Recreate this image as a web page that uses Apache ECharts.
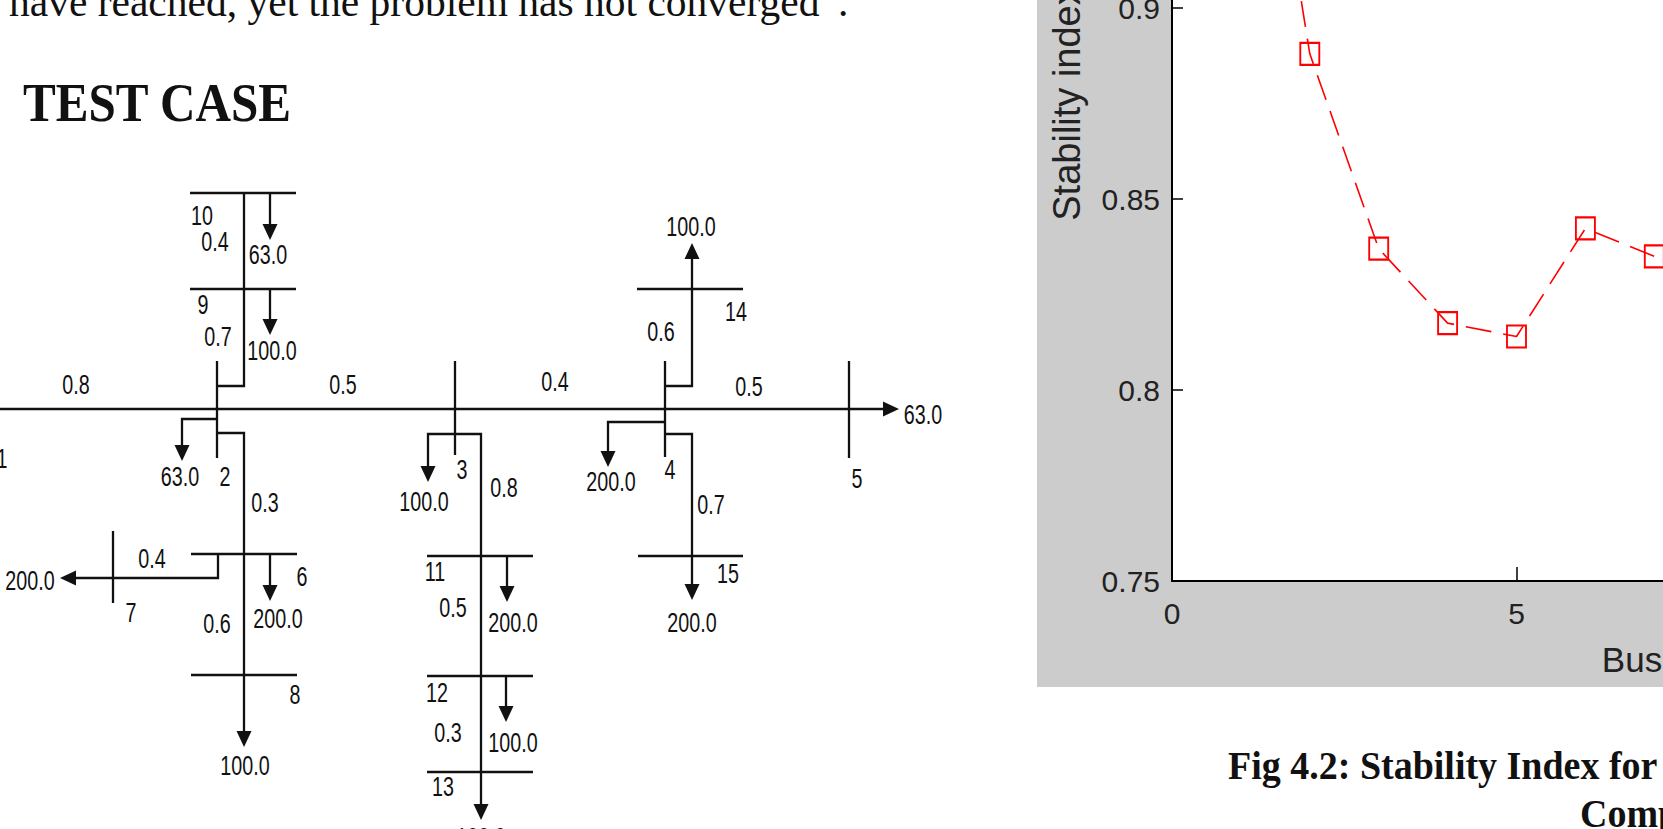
<!DOCTYPE html>
<html><head><meta charset="utf-8">
<script src="https://cdn.jsdelivr.net/npm/echarts@6/dist/echarts.min.js"></script>
<style>html,body{margin:0;padding:0;background:#fff;overflow:hidden}#c{width:1663px;height:829px}</style>
</head><body><div id="c"></div>
<script>
// ---------- Stability index chart (Fig 4.2) ----------
const busNumbers = [1, 2, 3, 4, 5, 6, 7];
const stabilityIndex = [1.0, 0.888, 0.837, 0.8175, 0.814, 0.8423, 0.835];
const xTickMin = 0, xTickMax = 15, xTickStep = 5;
const yTickMin = 0.75, yTickMax = 1.0, yTickStep = 0.05;

// ---------- Test case one-line diagram (drawing units) ----------
const busBars = [
  [[217,361],[217,458]], [[455,361],[455,455]], [[665,361],[665,457]], [[849,361],[849,458]], [[113,531],[113,603]],
  [[190,193],[296,193]], [[190,289],[296,289]], [[191,554],[297,554]], [[191,675],[297,675]],
  [[427,556],[533,556]], [[427,676],[533,676]], [[427,772],[533,772]],
  [[637,289],[743,289]], [[638,556],[743,556]]
];
const feeders = [
  [[0,409],[849,409]],
  [[217,386],[244,386],[244,193]],
  [[217,433],[244,433],[244,675]],
  [[218,554],[218,578],[113,578]],
  [[455,434],[481,434],[481,772]],
  [[665,386],[692,386],[692,289]],
  [[665,434],[692,434],[692,556]]
];
const loadArrows = [
  [[270,193],[270,240]], [[270,289],[270,335]],
  [[217,419],[182,419],[182,461]], [[455,434],[428,434],[428,482]], [[665,422],[608,422],[608,467]],
  [[692,289],[692,243]], [[849,409],[899,409]], [[113,578],[60,578]],
  [[270,554],[270,601]], [[244,675],[244,747]],
  [[507,556],[507,602]], [[506,676],[506,722]], [[481,772],[481,820]], [[692,556],[692,600]]
];
const diagramLabels = [
  ['10',202,216], ['0.4',215,242], ['63.0',268,255],
  ['9',203,305], ['0.7',218,337], ['100.0',272,351],
  ['0.8',76,385], ['0.5',343,385], ['1',2,459],
  ['63.0',180,477], ['2',225,477],
  ['3',462,470], ['0.8',504,488], ['100.0',424,502],
  ['0.4',555,382],
  ['100.0',691,227], ['14',736,312], ['0.6',661,332],
  ['0.5',749,387],
  ['200.0',611,482], ['4',670,470], ['0.7',711,505],
  ['5',857,479], ['63.0',923,415],
  ['0.3',265,503],
  ['0.4',152,559], ['200.0',30,581], ['7',131,613], ['6',302,577],
  ['200.0',278,619], ['0.6',217,624],
  ['8',295,695], ['100.0',245,766],
  ['11',435,572], ['200.0',513,623], ['0.5',453,608],
  ['12',437,693], ['100.0',513,743], ['0.3',448,733],
  ['13',443,787], ['100.0',481,838],
  ['15',728,574], ['200.0',692,623]
];

// ---------- Page text ----------
const paragraphText = 'have reached, yet the problem has not converged\u201D.';
const headingText = 'TEST CASE';
const captionLine1 = 'Fig 4.2: Stability Index for';
const captionLine2 = 'Comp';
const xAxisName = 'Bus';
const yAxisName = 'Stability index';

const INK = '#111';
function toPx(api, arr) { return arr.map(p => api.coord(p)); }

function wireSeries(list) {
  return {
    type: 'custom', coordinateSystem: 'cartesian2d', xAxisIndex: 0, yAxisIndex: 0,
    silent: true, clip: false,
    data: list.map((w, i) => [w[0][0], w[0][1], i]),
    renderItem: (params, api) => {
      const w = list[api.value(2)];
      return { type: 'polyline', shape: { points: toPx(api, w) },
        style: { stroke: INK, lineWidth: 2.3, fill: null } };
    }
  };
}

const chart = echarts.init(document.getElementById('c'), null, { renderer: 'svg' });
chart.setOption({
  backgroundColor: '#ffffff',
  animation: false,
  graphic: [
    { type: 'rect', z: -10, silent: true, shape: { x: 1037, y: -5, width: 700, height: 692 }, style: { fill: '#cccccc' } },
    { type: 'text', x: 9, y: 2, silent: true,
      style: { text: paragraphText, font: '41.5px "Liberation Serif", "Times New Roman", serif', fill: INK, align: 'left', verticalAlign: 'middle' } },
    { type: 'text', x: 23, y: 103, scaleX: 0.91, silent: true,
      style: { text: headingText, font: 'bold 54px "Liberation Serif", "Times New Roman", serif', fill: INK, align: 'left', verticalAlign: 'middle' } },
    { type: 'text', x: 1228, y: 765, scaleX: 0.95, silent: true,
      style: { text: captionLine1, font: 'bold 40px "Liberation Serif", "Times New Roman", serif', fill: INK, align: 'left', verticalAlign: 'middle' } },
    { type: 'text', x: 1580, y: 813, scaleX: 0.95, silent: true,
      style: { text: captionLine2, font: 'bold 40px "Liberation Serif", "Times New Roman", serif', fill: INK, align: 'left', verticalAlign: 'middle' } },
    { type: 'text', x: 1632, y: 659, silent: true,
      style: { text: xAxisName, font: '35px "Liberation Sans", Arial, sans-serif', fill: '#222', align: 'center', verticalAlign: 'middle' } }
  ],
  grid: [
    { left: 0, top: 0, width: 1663, height: 829, show: false, containLabel: false, outerBoundsMode: 'none' },
    { left: 1172, top: -374, width: 1033.5, height: 955, show: true, backgroundColor: '#ffffff', borderWidth: 0,
      containLabel: false, outerBoundsMode: 'none' }
  ],
  xAxis: [
    { gridIndex: 0, type: 'value', min: 0, max: 1663, show: false },
    { gridIndex: 1, type: 'value', min: xTickMin, max: xTickMax, interval: xTickStep,
      axisLine: { show: true, onZero: false, lineStyle: { color: '#000', width: 2 } },
      axisTick: { show: true, inside: true, length: 14, lineStyle: { color: '#000', width: 1.5 } },
      axisLabel: { fontSize: 30, color: '#222', margin: 17, fontFamily: '"Liberation Sans", Arial, sans-serif' },
      splitLine: { show: false } }
  ],
  yAxis: [
    { gridIndex: 0, type: 'value', min: 0, max: 829, inverse: true, show: false },
    { gridIndex: 1, type: 'value', min: yTickMin, max: yTickMax, interval: yTickStep,
      name: yAxisName, nameLocation: 'middle', nameGap: 86,
      nameTextStyle: { fontSize: 38, color: '#222', fontFamily: '"Liberation Sans", Arial, sans-serif' },
      axisLine: { show: true, onZero: false, lineStyle: { color: '#000', width: 2 } },
      axisTick: { show: true, inside: true, length: 11, lineStyle: { color: '#000', width: 1.5 } },
      axisLabel: { fontSize: 30, color: '#222', margin: 12, fontFamily: '"Liberation Sans", Arial, sans-serif' },
      splitLine: { show: false } }
  ],
  series: [
    wireSeries(busBars),
    wireSeries(feeders),
    {
      type: 'custom', coordinateSystem: 'cartesian2d', xAxisIndex: 0, yAxisIndex: 0, silent: true, clip: false,
      data: loadArrows.map((a, i) => [a[0][0], a[0][1], i]),
      renderItem: (params, api) => {
        const p = toPx(api, loadArrows[api.value(2)]);
        const tip = p[p.length - 1], prev = p[p.length - 2];
        const dx = tip[0] - prev[0], dy = tip[1] - prev[1], L = Math.hypot(dx, dy);
        const ux = dx / L, uy = dy / L, hl = 16, hw = 7.5;
        const base = [tip[0] - ux * hl, tip[1] - uy * hl];
        const shaft = p.slice(0, -1).concat([base]);
        return { type: 'group', children: [
          { type: 'polyline', shape: { points: shaft }, style: { stroke: INK, lineWidth: 2.3, fill: null } },
          { type: 'polygon', shape: { points: [tip, [base[0] - uy * hw, base[1] + ux * hw], [base[0] + uy * hw, base[1] - ux * hw]] },
            style: { fill: INK } }
        ] };
      }
    },
    {
      type: 'custom', coordinateSystem: 'cartesian2d', xAxisIndex: 0, yAxisIndex: 0, silent: true, clip: false,
      data: diagramLabels.map((l, i) => [l[1], l[2], i]),
      renderItem: (params, api) => {
        const l = diagramLabels[api.value(2)];
        const c = api.coord([l[1], l[2]]);
        return { type: 'text', x: c[0], y: c[1], scaleX: 0.73,
          style: { text: l[0], x: 0, y: 0, align: 'center', verticalAlign: 'middle',
            font: '27px "Liberation Sans", Arial, sans-serif', fill: INK } };
      }
    },
    {
      type: 'line', xAxisIndex: 1, yAxisIndex: 1, silent: true,
      data: busNumbers.map((b, i) => [b, stabilityIndex[i]]),
      symbol: 'rect', symbolSize: [19, 22], showSymbol: true,
      lineStyle: { color: '#ff0000', width: 1.6, type: [26, 12] },
      itemStyle: { color: 'rgba(255,0,0,0)', borderColor: '#ff0000', borderWidth: 2 }
    }
  ]
});
</script>
</body></html>
